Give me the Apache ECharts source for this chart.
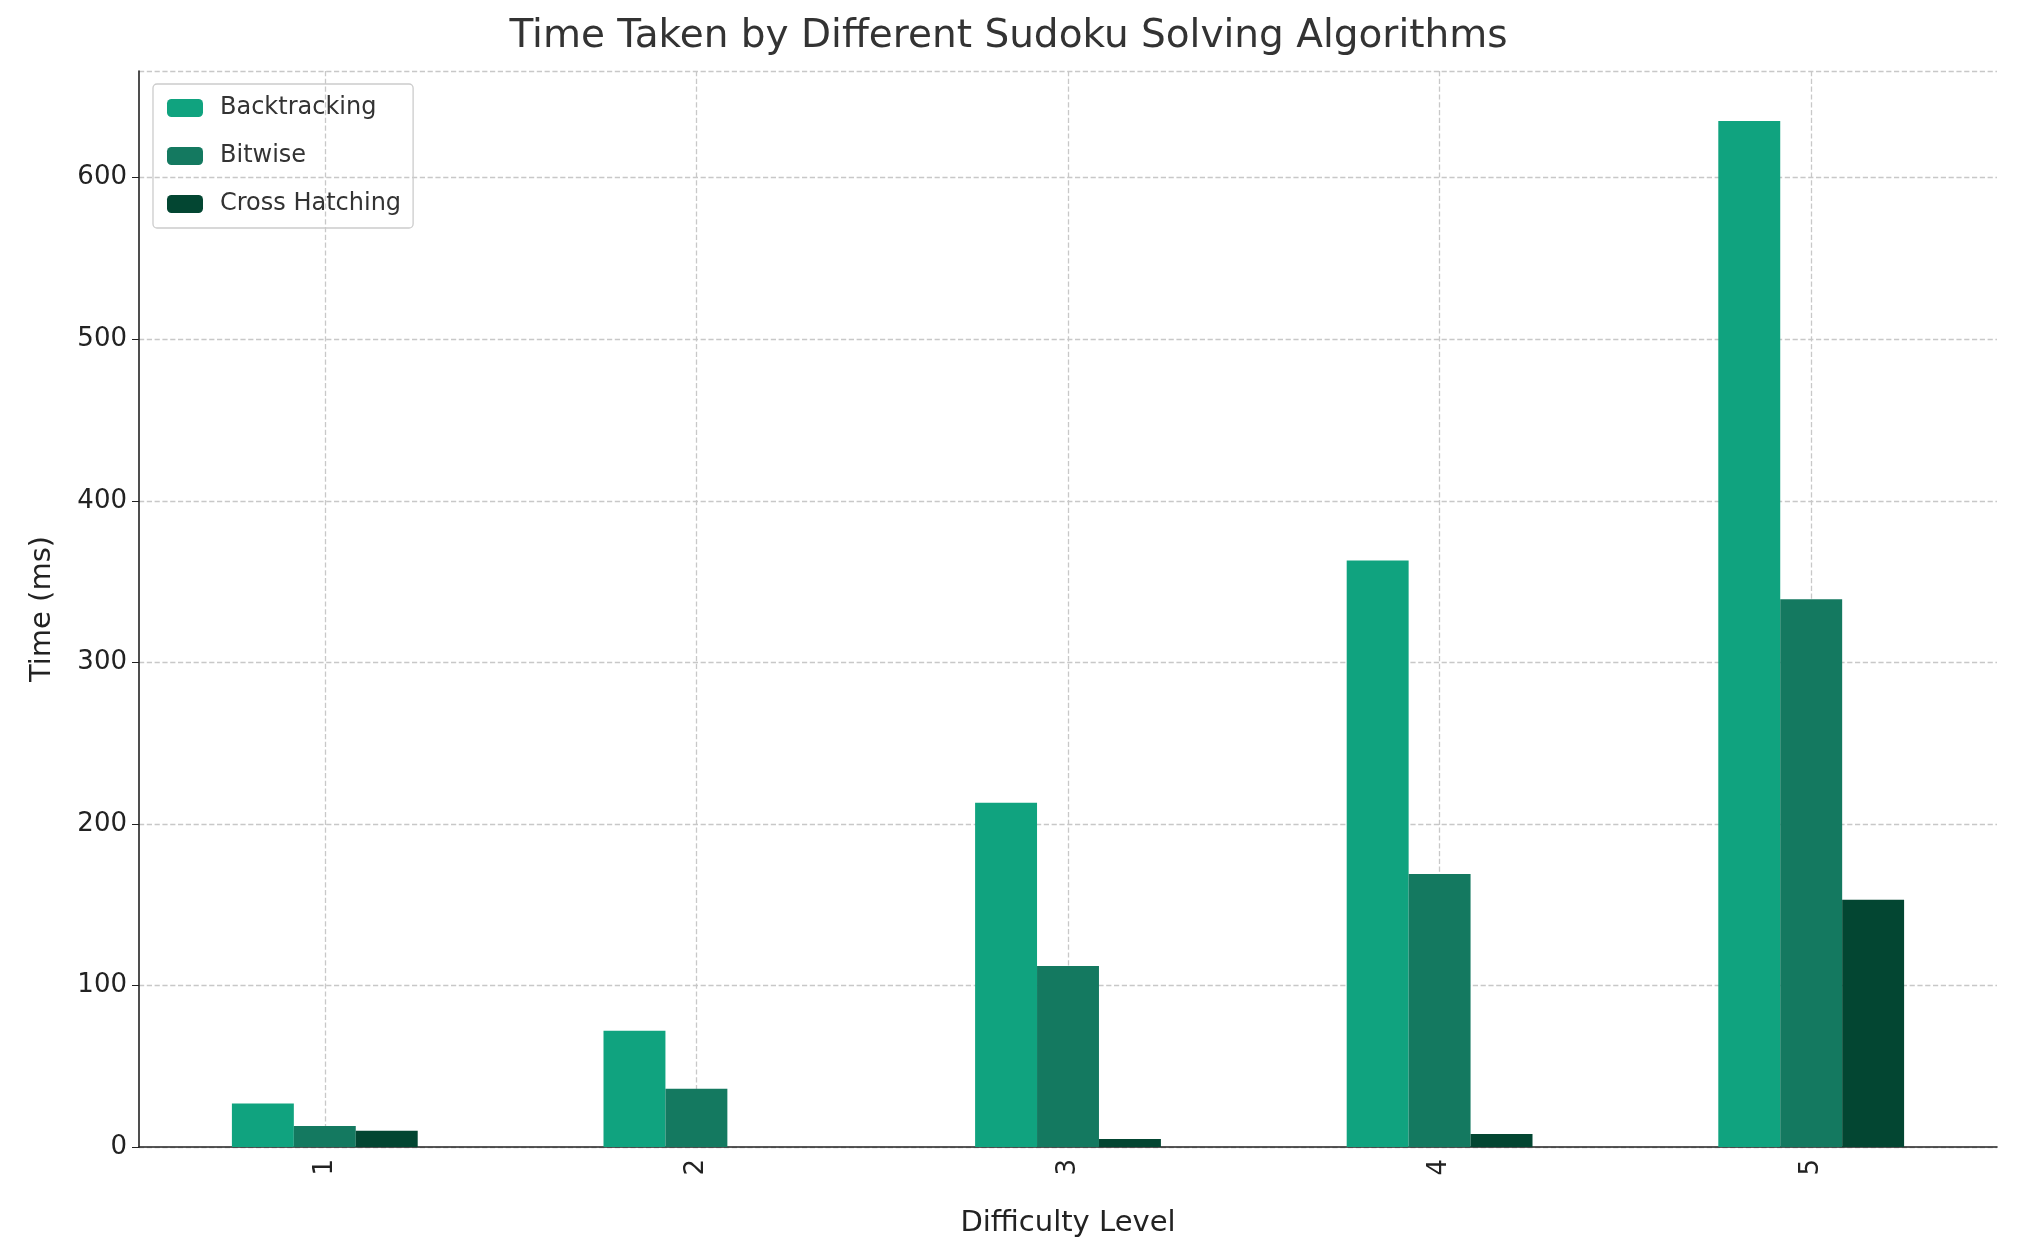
<!DOCTYPE html>
<html>
<head>
<meta charset="utf-8">
<script src="https://cdn.jsdelivr.net/npm/echarts@6/dist/echarts.min.js"></script>
<style>html,body{margin:0;padding:0;background:#fff}#chart{width:2017px;height:1243px}</style>
</head>
<body>
<div id="chart"></div>
<script>
var levels = ['1', '2', '3', '4', '5'];
var backtracking = [27, 72, 213, 363, 635];
var bitwise = [13, 36, 112, 169, 339];
var crossHatching = [10, 0, 5, 8, 153];
var yTicks = { min: 0, max: 666, interval: 100 };

var chart = echarts.init(document.getElementById('chart'));
var font = 'DejaVu Sans';
var grid = { type: 'dashed', color: '#c8c8c8', width: 1.3 };

var option = {
  backgroundColor: '#ffffff',
  color: ['#10a37f', '#147960', '#034632'],
  textStyle: { fontFamily: font },
  title: {
    text: 'Time Taken by Different Sudoku Solving Algorithms',
    left: 'center', top: 12,
    textStyle: { fontSize: 39, fontWeight: 'normal', color: '#333', fontFamily: font }
  },
  legend: {
    orient: 'vertical', left: 153, top: 84,
    itemWidth: 36, itemHeight: 18, itemGap: 24,
    padding: [12, 12, 12, 14],
    borderColor: '#ccc', borderWidth: 1.3, borderRadius: 4,
    textStyle: { fontSize: 24, color: '#333', fontFamily: font, padding: [0, 0, 0, 12] },
    data: ['Backtracking', 'Bitwise', 'Cross Hatching']
  },
  grid: { left: 139, right: 20, top: 71, bottom: 95 },
  xAxis: [{
    type: 'category', data: levels,
    name: 'Difficulty Level', nameLocation: 'middle', nameGap: 62,
    nameTextStyle: { fontSize: 29, color: '#222', fontFamily: font },
    axisLine: { lineStyle: { color: '#222', width: 1.6 } },
    axisTick: { alignWithLabel: true, length: 7, lineStyle: { color: '#222' } },
    axisLabel: { rotate: 90, fontSize: 26, color: '#222', margin: 12 },
    splitLine: { show: false }
  }, {
    type: 'category', boundaryGap: false, position: 'bottom',
    data: ['', '1', '', '2', '', '3', '', '4', '', '5', ''],
    axisLine: { show: false }, axisTick: { show: false }, axisLabel: { show: false },
    splitLine: { show: true, interval: function (i) { return i % 2 === 1; }, lineStyle: grid }
  }],
  yAxis: {
    type: 'value', min: yTicks.min, max: yTicks.max, interval: yTicks.interval,
    name: 'Time (ms)', nameLocation: 'middle', nameGap: 82,
    nameTextStyle: { fontSize: 29, color: '#222', fontFamily: font },
    axisLine: { show: true, lineStyle: { color: '#222', width: 1.6 } },
    axisTick: { show: true, length: 7, lineStyle: { color: '#222' } },
    axisLabel: { fontSize: 26, color: '#222', showMaxLabel: false, margin: 12 },
    splitLine: { lineStyle: grid }
  },
  series: [
    { name: 'Backtracking', type: 'bar', data: backtracking, barGap: '0%', barCategoryGap: '50%' },
    { name: 'Bitwise', type: 'bar', data: bitwise },
    { name: 'Cross Hatching', type: 'bar', data: crossHatching }
  ]
};
chart.setOption(option);
</script>
</body>
</html>
